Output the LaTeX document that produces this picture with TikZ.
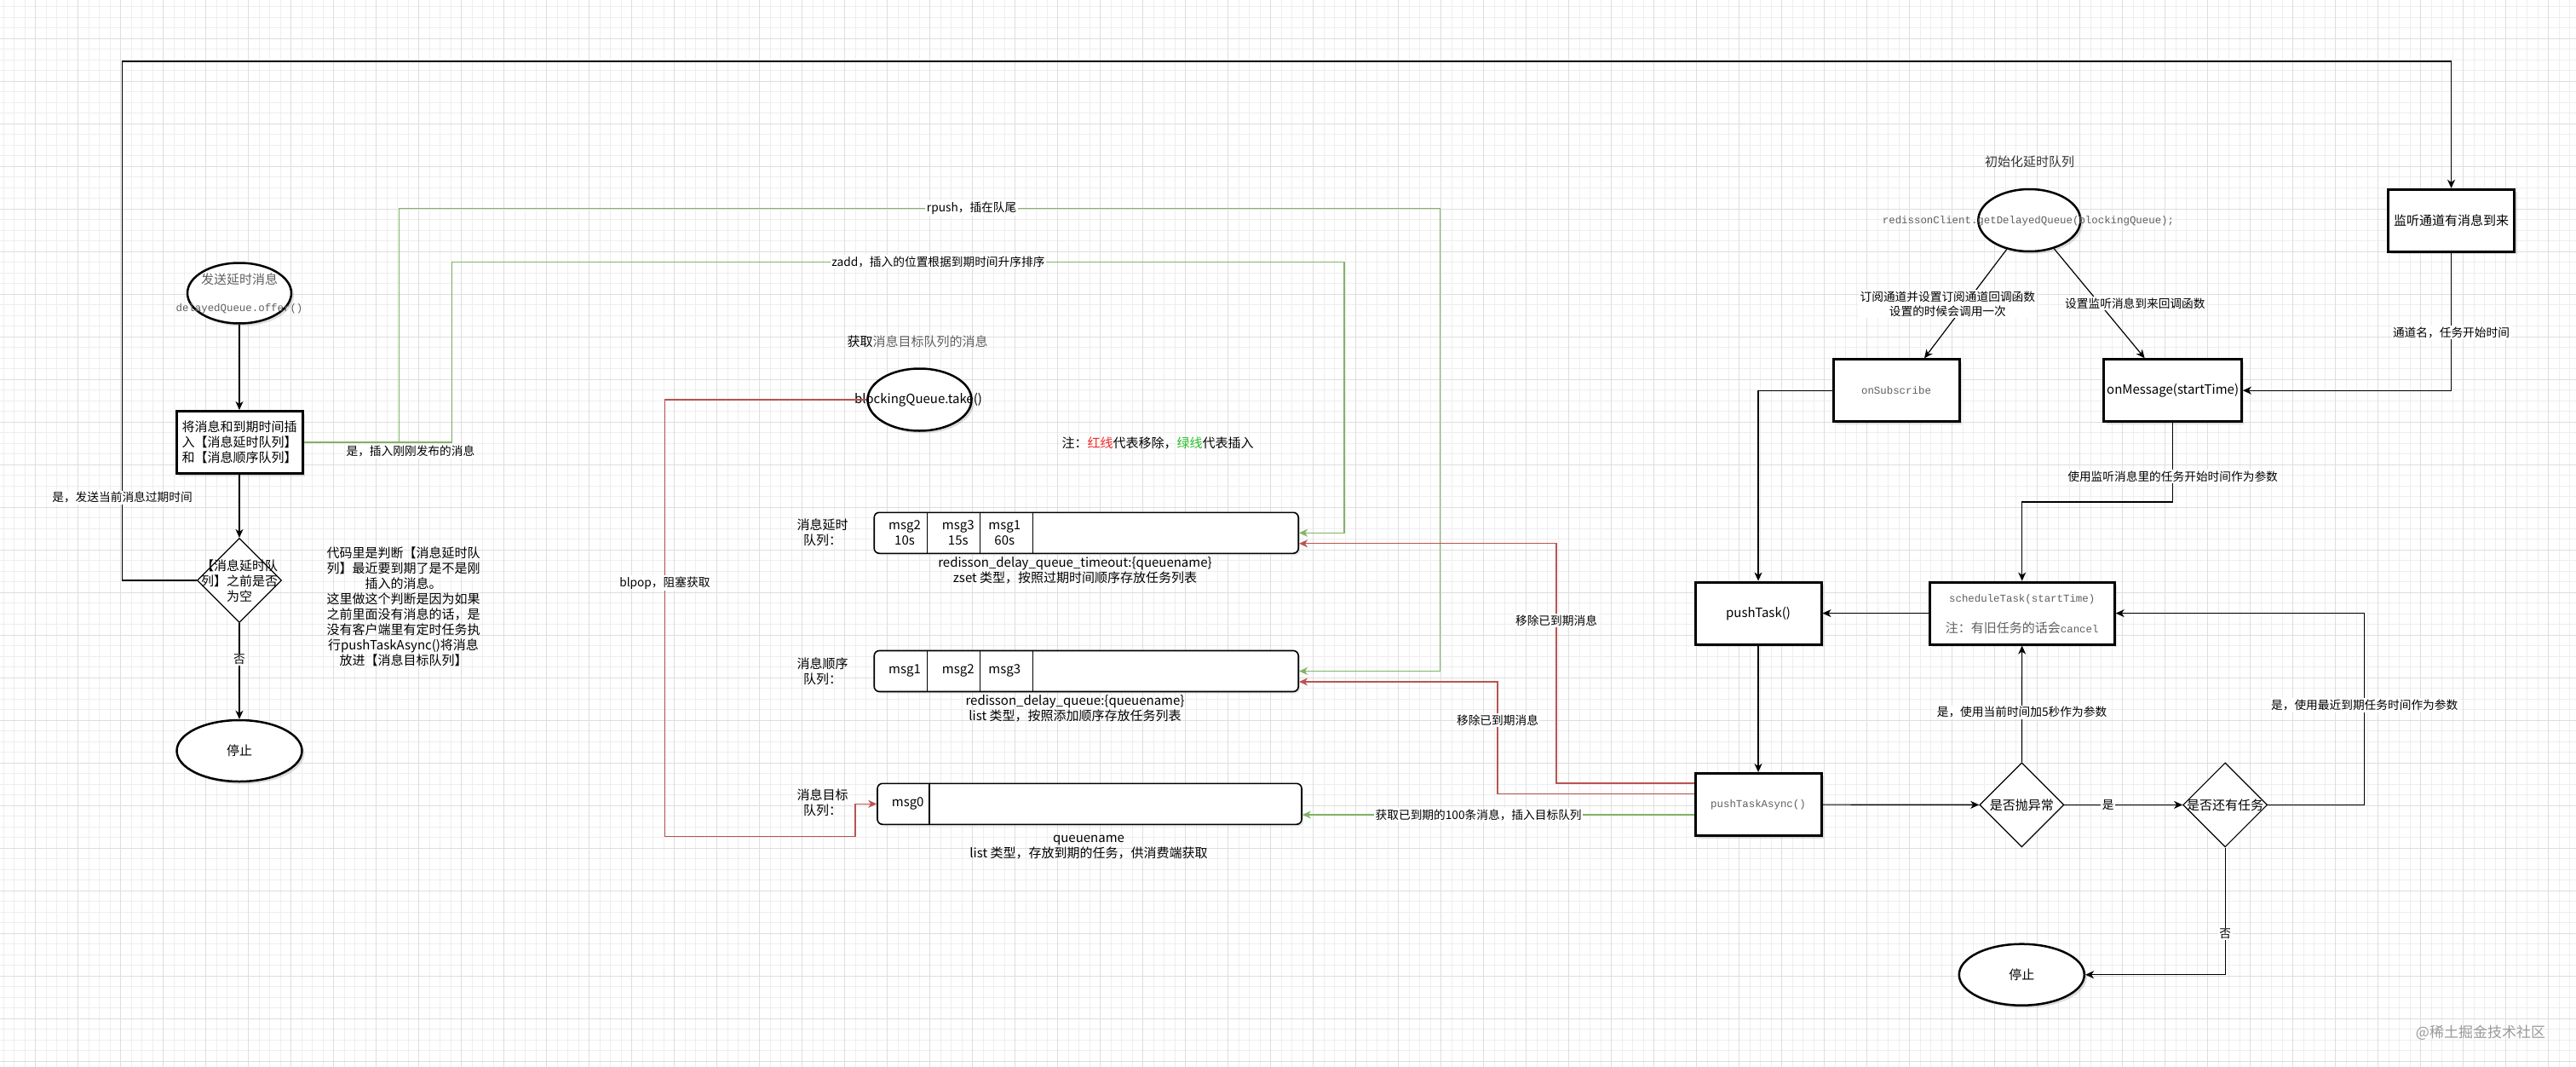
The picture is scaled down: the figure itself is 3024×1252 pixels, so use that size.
\documentclass[tikz,border=0pt]{standalone}
\usepackage{fontspec}
\setmainfont{Noto Sans CJK SC}
\newfontfamily\monofont{Liberation Mono}
\usepackage{xcolor}
\usepackage{tikz}
\usetikzlibrary{arrows.meta,shapes.geometric,shadows}

\definecolor{insgreen}{RGB}{130,179,102}
\definecolor{delred}{RGB}{184,84,80}
\definecolor{codegray}{RGB}{95,95,95}
\definecolor{notered}{RGB}{245,40,40}
\definecolor{notegreen}{RGB}{40,190,40}
\definecolor{gridminor}{RGB}{238,238,238}
\definecolor{gridmajor}{RGB}{222,222,222}

\begin{document}
\begin{tikzpicture}[x=1pt,y=-1pt,line width=1.2pt,>={Stealth[length=10pt,width=9pt,inset=3pt]},
  nodefont/.style={font=\fontsize{15}{18}\selectfont},
  mono/.style={font=\fontsize{12.4}{15}\selectfont\monofont,text=codegray},
  proc/.style={draw,rectangle,line width=3pt,fill=white,minimum width=148pt,minimum height=73pt,nodefont,
    drop shadow={shadow xshift=3pt,shadow yshift=-3pt,opacity=.25}},
  oval/.style={draw,ellipse,line width=2.5pt,fill=white,nodefont,
    drop shadow={shadow xshift=3pt,shadow yshift=-3pt,opacity=.25}},
  decision/.style={draw,diamond,line width=1.2pt,fill=white,minimum width=99pt,minimum height=99pt,inner sep=0pt},
  queue/.style={draw,rounded corners=6pt,line width=1.6pt,fill=white,minimum width=498pt,minimum height=48pt,
    drop shadow={shadow xshift=2pt,shadow yshift=-2pt,opacity=.2}},
  txt/.style={nodefont,align=center,inner sep=0pt},
  lbl/.style={font=\fontsize{13.7}{17}\selectfont,fill=white,inner sep=1.5pt,align=center},
  green line/.style={->,draw=insgreen},
  red line/.style={->,draw=delred}]

	% Background and grid
	\useasboundingbox (0,0) rectangle (3024,1252);
	\fill[white] (0,0) rectangle (3024,1252);
	\foreach \gx in {4.2,16.7,...,3024} \draw[gridminor,line width=.7pt] (\gx,0) -- (\gx,1252);
	\foreach \gy in {7.5,20,...,1252} \draw[gridminor,line width=.7pt] (0,\gy) -- (3024,\gy);
	\foreach \gx in {41.7,91.7,...,3024} \draw[gridmajor,line width=.8pt] (\gx,0) -- (\gx,1252);
	\foreach \gy in {45,95,...,1252} \draw[gridmajor,line width=.8pt] (0,\gy) -- (3024,\gy);

	% Producer side
	\node [oval,minimum width=122pt,minimum height=71pt] at (281,344) (send) {};
	\node [txt,text=codegray] at (281,328) (sendtitle) {发送延时消息};
	\node [mono,inner sep=0pt] at (281,362) (sendcode) {delayedQueue.offer()};
	\node [proc,align=left] at (281,519) (ins) {将消息和到期时间插\\入【消息延时队列】\\和【消息顺序队列】};
	\node [decision] at (281,681) (cond) {};
	\node [txt] at (281,681.5) (condtxt) {【消息延时队\\列】之前是否\\为空};
	\node [oval,minimum width=147pt,minimum height=72pt] at (281,881) (stop1) {停止};
	\node [txt] at (473.5,712) (whynote) {代码里是判断【消息延时队\\列】最近要到期了是不是刚\\插入的消息。\\这里做这个判断是因为如果\\之前里面没有消息的话，是\\没有客户端里有定时任务执\\行pushTaskAsync()将消息\\放进【消息目标队列】};

	% Consumer and queues
	\node [txt] at (1077,401) (taketitle) {获取\textcolor{codegray}{消息目标队列的消息}};
	\node [oval,minimum width=122pt,minimum height=73pt] at (1079.5,469) (bq) {};
	\node [txt] at (1078,469) (bqtxt) {blockingQueue.take()};
	\node [txt] at (1359,520) (legend) {注：\textcolor{notered}{红线}代表移除，\textcolor{notegreen}{绿线}代表插入};

	\node [queue] at (1275.2,625.3) (q1) {};
	\node [queue] at (1275.2,787.5) (q2) {};
	\node [queue] at (1279,943.3) (q3) {};
	\foreach \dx in {63,125,187} {
		\draw[line width=1.6pt] ([xshift=\dx pt]q1.north west) -- ([xshift=\dx pt]q1.south west);
		\draw[line width=1.6pt] ([xshift=\dx pt]q2.north west) -- ([xshift=\dx pt]q2.south west);
	}
	\draw[line width=1.6pt] ([xshift=62pt]q3.north west) -- ([xshift=62pt]q3.south west);

	\node [txt] at (1062,625) (c11) {msg2\\10s};
	\node [txt] at (1124.8,625) (c12) {msg3\\15s};
	\node [txt] at (1179.3,625) (c13) {msg1\\60s};
	\node [txt] at (1062,787.3) (c21) {msg1};
	\node [txt] at (1124.8,787.3) (c22) {msg2};
	\node [txt] at (1179.3,787.3) (c23) {msg3};
	\node [txt] at (1065.7,943.3) (c31) {msg0};

	\node [txt] at (965.5,625) (q1name) {消息延时\\队列：};
	\node [txt] at (965.5,788) (q2name) {消息顺序\\队列：};
	\node [txt] at (965.5,942) (q3name) {消息目标\\队列：};
	\node [txt] at (1262,669.3) (q1info) {redisson\_delay\_queue\_timeout:\{queuename\}\\zset 类型，按照过期时间顺序存放任务列表};
	\node [txt] at (1262,831.3) (q2info) {redisson\_delay\_queue:\{queuename\}\\list 类型，按照添加顺序存放任务列表};
	\node [txt] at (1278,993.8) (q3info) {queuename\\list 类型，存放到期的任务，供消费端获取};

	% Scheduler side
	\node [txt,text=black!80] at (2382.6,189.4) (inittitle) {初始化延时队列};
	\node [oval,minimum width=120pt,minimum height=73pt] at (2382.3,258.5) (init) {};
	\node [mono,inner sep=0pt] at (2381,259) (initcode) {redissonClient.getDelayedQueue(blockingQueue);};
	\node [proc] at (2877.5,258.8) (listen) {监听通道有消息到来};
	\node [proc,mono] at (2226,458.3) (onsub) {onSubscribe};
	\node [proc] at (2550.6,458.2) (onmsg) {onMessage(startTime)};
	\node [proc] at (2064,719.6) (push) {pushTask()};
	\node [proc,minimum width=217pt] at (2373.7,719.6) (sched) {};
	\node [mono,inner sep=0pt] at (2373.7,703.3) (schedcode) {scheduleTask(startTime)};
	\node [txt,text=codegray] at (2373.7,737) (schednote) {注：有旧任务的话会{\monofont\fontsize{12.4}{15}\selectfont cancel}};
	\node [proc,mono] at (2064,944) (pa) {pushTaskAsync()};
	\node [decision] at (2373.3,944.4) (exc) {};
	\node [txt] at (2373.3,944.4) (exctxt) {是否抛异常};
	\node [decision] at (2612.2,944.4) (more) {};
	\node [txt] at (2612.2,944.4) (moretxt) {是否还有任务};
	\node [oval,minimum width=147pt,minimum height=72pt] at (2373.3,1143.7) (stop2) {停止};

	\node [font=\fontsize{17}{20}\selectfont,text=black!40] at (2912,1211.7) (mark) {@稀土掘金技术社区};

	% Producer edges
	\path[->]
	(send) edge (ins)
	(ins) edge (cond)
	(cond) edge node[lbl,pos=.38] (no1) {否} (stop1);

	\coordinate (backtop) at (143.5,72);
	\draw[->] (cond.west) -| node[lbl,pos=.58] (backlbl) {是，发送当前消息过期时间} (backtop) -| (listen.north);

	% Insert (green) and remove (red) edges
	\coordinate (zaddcorner) at (530.7,307.3);
	\coordinate (zaddturn) at (1577.9,307.3);
	\coordinate (rpcorner) at (468.7,244.3);
	\coordinate (rpturn) at (1690.4,244.3);
	\draw[green line] (ins.east) -| node[lbl,pos=.36,below=2pt] (yesins) {是，插入刚刚发布的消息} (zaddcorner)
		-- node[lbl,pos=.545] (zaddlbl) {zadd，插入的位置根据到期时间升序排序} (zaddturn) |- (q1.east);
	\draw[green line] (ins.east) -| (rpcorner)
		-- node[lbl,pos=.55] (rplbl) {rpush，插在队尾} (rpturn) |- (q2.east);

	\draw[red line] ([yshift=25pt]pa.west) -| node[lbl,pos=.84] (rm1) {移除已到期消息}
		([xshift=302pt,yshift=-12.5pt]q1.east) -- ([yshift=-12.5pt]q1.east);
	\draw[red line] ([yshift=12.3pt]pa.west) -| node[lbl,pos=.83] (rm2) {移除已到期消息}
		([xshift=233pt,yshift=-12.5pt]q2.east) -- ([yshift=-12.5pt]q2.east);
	\draw[green line] ([yshift=-12pt]pa.west) -- node[lbl,pos=.55] (fetchlbl) {获取已到期的100条消息，插入目标队列} ([yshift=-12.7pt]q3.east);

	\coordinate (blbot) at (780.4,981.7);
	\coordinate (blup) at (1004,943.3);
	\draw[red line] (bq.west) -| node[lbl,pos=.71] (blpoplbl) {blpop，阻塞获取} (blbot) -| (blup) -- (q3.west);

	% Scheduler edges
	\path[->]
	(init.232) edge node[lbl,xshift=-21pt] (sublbl) {订阅通道并设置订阅通道回调函数\\设置的时候会调用一次} ([xshift=33pt]onsub.north)
	(init.311) edge node[lbl,xshift=42pt] (msglbl) {设置监听消息到来回调函数} ([xshift=-33pt]onmsg.north)
	(sched) edge (push)
	(push) edge (pa)
	(pa) edge (exc)
	(exc) edge node[lbl,pos=.43] (retrylbl) {是，使用当前时间加5秒作为参数} (sched)
	(exc) edge node[lbl,pos=.37] (yeslbl) {是} (more);

	\coordinate (schedturn) at (2373.7,589);
	\draw[->] (listen.south) |- node[lbl,pos=.29] (chanlbl) {通道名，任务开始时间} (onmsg.east);
	\draw[->] (onmsg.south) |- node[lbl,pos=.34] (paramlbl) {使用监听消息里的任务开始时间作为参数} (schedturn) -- (sched.north);
	\draw[->] (onsub.west) -| (push.north);
	\draw[->] (more.east) -| node[lbl,pos=.76] (nextlbl) {是，使用最近到期任务时间作为参数} ([xshift=292pt]sched.east) -- (sched.east);
	\draw[->] (more.south) |- node[lbl,pos=.34] (no2) {否} (stop2.east);

\end{tikzpicture}
\end{document}
